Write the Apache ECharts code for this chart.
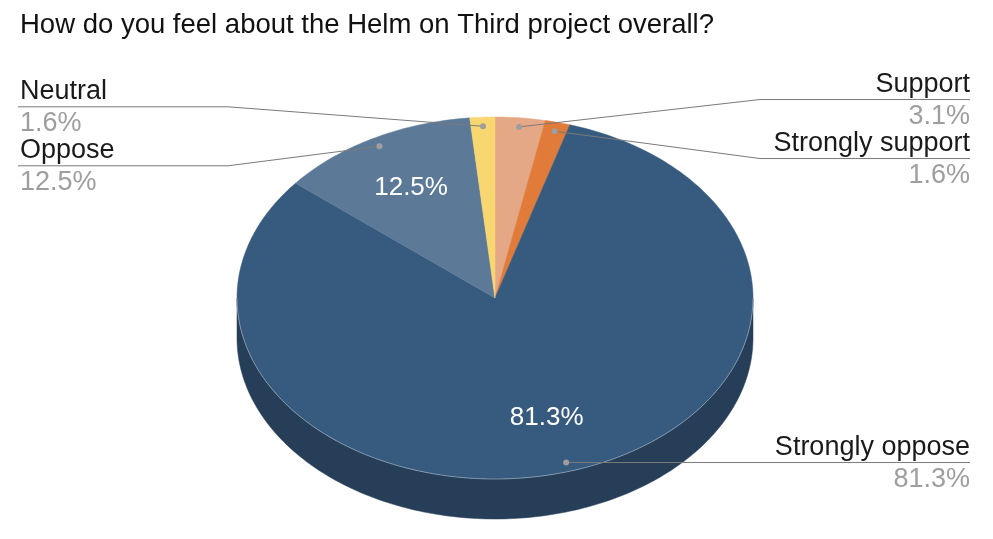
<!DOCTYPE html>
<html><head><meta charset="utf-8">
<script src="https://cdn.jsdelivr.net/npm/echarts@6/dist/echarts.min.js"></script>
<style>html,body{margin:0;padding:0;background:#fff}#c{width:993px;height:539px}</style>
</head><body><div id="c"></div>
<script>
// ---- data ----
const chartTitle = 'How do you feel about the Helm on Third project overall?';
const categories = ['Support', 'Strongly support', 'Strongly oppose', 'Oppose', 'Neutral'];
const counts = [2, 1, 52, 8, 1];
const sliceColors = ['#E5A886', '#E07B3A', '#375A7F', '#5C7A98', '#F8D771'];

// ---- layout / style ----
const G = {cx: 495, cy: 298, rx: 258, ry: 181, depth: 40,
  anchorR: 0.95, innerR: 0.69, innerMinPct: 5, labelGap: 59,
  leftElbow: 228, rightElbow: 760, leftEdge: 18, rightEdge: 970,
  leftText: 20, rightText: 970, nameOff: -15, valueOff: 17,
  font: '"Liberation Sans", Arial, sans-serif'};

function darken(hex, f) {
  const n = parseInt(hex.slice(1), 16);
  const r = Math.round(((n >> 16) & 255) * f), g = Math.round(((n >> 8) & 255) * f), b = Math.round((n & 255) * f);
  return 'rgb(' + r + ',' + g + ',' + b + ')';
}
function pt(theta, r, dy) {
  const t = theta * Math.PI / 180;
  return [G.cx + r * G.rx * Math.sin(t), G.cy - r * G.ry * Math.cos(t) + (dy || 0)];
}
function arc(a0, a1, r, dy) {
  const pts = [];
  const n = Math.max(2, Math.ceil((a1 - a0) / 1));
  for (let i = 0; i <= n; i++) pts.push(pt(a0 + (a1 - a0) * i / n, r, dy));
  return pts;
}

const total = counts.reduce((a, b) => a + b, 0);
const pcts = counts.map(v => v / total * 100);
const starts = [], ends = [];
let acc = 0;
counts.forEach((v, i) => { starts.push(acc / total * 360); acc += v; ends.push(acc / total * 360); });
const mids = starts.map((s, i) => (s + ends[i]) / 2);

// label layout (derived from slice angles)
const anchors = mids.map(m => pt(m, G.anchorR));
const lineY = new Array(counts.length);
['left', 'right'].forEach(side => {
  const items = anchors.map((a, i) => ({i, ay: a[1], side: a[0] < G.cx ? 'left' : 'right'}))
    .filter(o => o.side === side).sort((a, b) => a.ay - b.ay);
  let clusters = items.map(it => ({items: [it], center: it.ay}));
  let changed = true;
  while (changed) {
    changed = false;
    for (let k = 0; k < clusters.length - 1; k++) {
      const a = clusters[k], b = clusters[k + 1];
      const aBottom = a.center + (a.items.length - 1) * G.labelGap / 2;
      const bTop = b.center - (b.items.length - 1) * G.labelGap / 2;
      if (bTop - aBottom < G.labelGap) {
        const its = a.items.concat(b.items);
        const c = its.reduce((s, o) => s + o.ay, 0) / its.length;
        clusters.splice(k, 2, {items: its, center: c});
        changed = true; break;
      }
    }
  }
  clusters.forEach(cl => cl.items.forEach((o, k) => {
    lineY[o.i] = cl.center + (k - (cl.items.length - 1) / 2) * G.labelGap;
  }));
});

const seriesData = categories.map((c, i) => ({name: c, value: counts[i]}));

const chart = echarts.init(document.getElementById('c'), null, {renderer: 'canvas'});
chart.setOption({
  animation: false,
  backgroundColor: '#ffffff',
  title: {text: chartTitle, left: 20, top: 11, padding: 0,
    textStyle: {fontSize: 27.5, fontWeight: 'normal', color: '#111', fontFamily: G.font}},
  series: [
    { // side walls
      type: 'custom', coordinateSystem: 'none', z: 1, silent: true, data: seriesData,
      renderItem: function (params) {
        const i = params.dataIndex;
        const s = Math.max(starts[i], 90), e = Math.min(ends[i], 270);
        if (e <= s) return {type: 'group', children: []};
        const top = arc(s, e, 1, 0), bot = arc(s, e, 1, G.depth).reverse();
        const col = darken(sliceColors[i], 0.69);
        return {type: 'polygon', shape: {points: top.concat(bot)},
          style: {fill: col, stroke: col, lineWidth: 0.5}};
      }
    },
    { // top faces
      type: 'custom', coordinateSystem: 'none', z: 2, silent: true, data: seriesData,
      renderItem: function (params) {
        const i = params.dataIndex;
        const pts = [[G.cx, G.cy]].concat(arc(starts[i], ends[i], 1, 0));
        const children = [{type: 'polygon', shape: {points: pts},
          style: {fill: sliceColors[i], stroke: sliceColors[i], lineWidth: 0.5}}];
        const s = Math.max(starts[i], 90), e = Math.min(ends[i], 270);
        if (e > s) children.push({type: 'polyline', shape: {points: arc(s, e, 1, 0)},
          style: {fill: null, stroke: 'rgba(255,255,255,0.35)', lineWidth: 1}});
        if (pcts[i] >= G.innerMinPct) {
          const p = pt(mids[i], G.innerR);
          children.push({type: 'text', x: p[0], y: p[1], style: {text: pcts[i].toFixed(1) + '%',
            fill: '#ffffff', fontSize: 26, fontFamily: G.font, align: 'center', verticalAlign: 'middle'}});
        }
        return {type: 'group', children};
      }
    },
    { // outside labels
      type: 'custom', coordinateSystem: 'none', z: 3, silent: true, data: seriesData,
      renderItem: function (params) {
        const i = params.dataIndex;
        const a = anchors[i], y = lineY[i];
        const left = a[0] < G.cx;
        const elbowX = left ? G.leftElbow : G.rightElbow;
        const edgeX = left ? G.leftEdge : G.rightEdge;
        const tx = left ? G.leftText : G.rightText;
        const al = left ? 'left' : 'right';
        return {type: 'group', children: [
          {type: 'polyline', shape: {points: [a, [elbowX, y], [edgeX, y]]},
            style: {fill: null, stroke: '#7a7a7a', lineWidth: 1}},
          {type: 'circle', shape: {cx: a[0], cy: a[1], r: 3}, style: {fill: '#9e9e9e'}},
          {type: 'text', x: tx, y: y + G.nameOff, style: {text: categories[i], fill: '#1a1a1a',
            fontSize: 27, fontFamily: G.font, align: al, verticalAlign: 'middle'}},
          {type: 'text', x: tx, y: y + G.valueOff, style: {text: pcts[i].toFixed(1) + '%', fill: '#9e9e9e',
            fontSize: 27, fontFamily: G.font, align: al, verticalAlign: 'middle'}}
        ]};
      }
    }
  ]
});
</script></body></html>
